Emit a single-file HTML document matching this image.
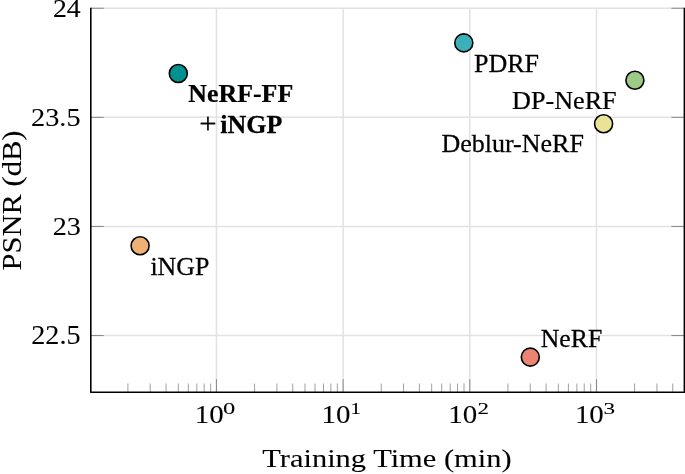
<!DOCTYPE html><html><head><meta charset="utf-8"><style>html,body{margin:0;padding:0;background:#fff;overflow:hidden}svg{display:block}text{font-family:"Liberation Serif",serif;fill:#000}.d text{stroke:#000;stroke-width:0.25px}.c text{stroke:#000;stroke-width:0.08px}</style></head><body>
<svg width="685" height="474" viewBox="0 0 685 474" xmlns="http://www.w3.org/2000/svg">
<line x1="216.45" y1="8.25" x2="216.45" y2="392.20" stroke="#e2e2e2" stroke-width="1.5"/>
<line x1="343.13" y1="8.25" x2="343.13" y2="392.20" stroke="#e2e2e2" stroke-width="1.5"/>
<line x1="469.81" y1="8.25" x2="469.81" y2="392.20" stroke="#e2e2e2" stroke-width="1.5"/>
<line x1="596.49" y1="8.25" x2="596.49" y2="392.20" stroke="#e2e2e2" stroke-width="1.5"/>
<line x1="90.80" y1="8.25" x2="684.40" y2="8.25" stroke="#e2e2e2" stroke-width="1.5"/>
<line x1="90.80" y1="117.35" x2="684.40" y2="117.35" stroke="#e2e2e2" stroke-width="1.5"/>
<line x1="90.80" y1="226.45" x2="684.40" y2="226.45" stroke="#e2e2e2" stroke-width="1.5"/>
<line x1="90.80" y1="335.55" x2="684.40" y2="335.55" stroke="#e2e2e2" stroke-width="1.5"/>
<line x1="127.90" y1="392.20" x2="127.90" y2="383.50" stroke="#a0a0a0" stroke-width="1.0"/>
<line x1="150.21" y1="392.20" x2="150.21" y2="383.50" stroke="#a0a0a0" stroke-width="1.0"/>
<line x1="166.04" y1="392.20" x2="166.04" y2="383.50" stroke="#a0a0a0" stroke-width="1.0"/>
<line x1="178.32" y1="392.20" x2="178.32" y2="383.50" stroke="#a0a0a0" stroke-width="1.0"/>
<line x1="188.35" y1="392.20" x2="188.35" y2="383.50" stroke="#a0a0a0" stroke-width="1.0"/>
<line x1="196.83" y1="392.20" x2="196.83" y2="383.50" stroke="#a0a0a0" stroke-width="1.0"/>
<line x1="204.17" y1="392.20" x2="204.17" y2="383.50" stroke="#a0a0a0" stroke-width="1.0"/>
<line x1="210.65" y1="392.20" x2="210.65" y2="383.50" stroke="#a0a0a0" stroke-width="1.0"/>
<line x1="254.58" y1="392.20" x2="254.58" y2="383.50" stroke="#a0a0a0" stroke-width="1.0"/>
<line x1="276.89" y1="392.20" x2="276.89" y2="383.50" stroke="#a0a0a0" stroke-width="1.0"/>
<line x1="292.72" y1="392.20" x2="292.72" y2="383.50" stroke="#a0a0a0" stroke-width="1.0"/>
<line x1="305.00" y1="392.20" x2="305.00" y2="383.50" stroke="#a0a0a0" stroke-width="1.0"/>
<line x1="315.03" y1="392.20" x2="315.03" y2="383.50" stroke="#a0a0a0" stroke-width="1.0"/>
<line x1="323.51" y1="392.20" x2="323.51" y2="383.50" stroke="#a0a0a0" stroke-width="1.0"/>
<line x1="330.85" y1="392.20" x2="330.85" y2="383.50" stroke="#a0a0a0" stroke-width="1.0"/>
<line x1="337.33" y1="392.20" x2="337.33" y2="383.50" stroke="#a0a0a0" stroke-width="1.0"/>
<line x1="381.26" y1="392.20" x2="381.26" y2="383.50" stroke="#a0a0a0" stroke-width="1.0"/>
<line x1="403.57" y1="392.20" x2="403.57" y2="383.50" stroke="#a0a0a0" stroke-width="1.0"/>
<line x1="419.40" y1="392.20" x2="419.40" y2="383.50" stroke="#a0a0a0" stroke-width="1.0"/>
<line x1="431.68" y1="392.20" x2="431.68" y2="383.50" stroke="#a0a0a0" stroke-width="1.0"/>
<line x1="441.71" y1="392.20" x2="441.71" y2="383.50" stroke="#a0a0a0" stroke-width="1.0"/>
<line x1="450.19" y1="392.20" x2="450.19" y2="383.50" stroke="#a0a0a0" stroke-width="1.0"/>
<line x1="457.53" y1="392.20" x2="457.53" y2="383.50" stroke="#a0a0a0" stroke-width="1.0"/>
<line x1="464.01" y1="392.20" x2="464.01" y2="383.50" stroke="#a0a0a0" stroke-width="1.0"/>
<line x1="507.94" y1="392.20" x2="507.94" y2="383.50" stroke="#a0a0a0" stroke-width="1.0"/>
<line x1="530.25" y1="392.20" x2="530.25" y2="383.50" stroke="#a0a0a0" stroke-width="1.0"/>
<line x1="546.08" y1="392.20" x2="546.08" y2="383.50" stroke="#a0a0a0" stroke-width="1.0"/>
<line x1="558.36" y1="392.20" x2="558.36" y2="383.50" stroke="#a0a0a0" stroke-width="1.0"/>
<line x1="568.39" y1="392.20" x2="568.39" y2="383.50" stroke="#a0a0a0" stroke-width="1.0"/>
<line x1="576.87" y1="392.20" x2="576.87" y2="383.50" stroke="#a0a0a0" stroke-width="1.0"/>
<line x1="584.21" y1="392.20" x2="584.21" y2="383.50" stroke="#a0a0a0" stroke-width="1.0"/>
<line x1="590.69" y1="392.20" x2="590.69" y2="383.50" stroke="#a0a0a0" stroke-width="1.0"/>
<line x1="634.62" y1="392.20" x2="634.62" y2="383.50" stroke="#a0a0a0" stroke-width="1.0"/>
<line x1="656.93" y1="392.20" x2="656.93" y2="383.50" stroke="#a0a0a0" stroke-width="1.0"/>
<line x1="672.76" y1="392.20" x2="672.76" y2="383.50" stroke="#a0a0a0" stroke-width="1.0"/>
<line x1="216.45" y1="392.20" x2="216.45" y2="379.20" stroke="#888888" stroke-width="1.0"/>
<line x1="343.13" y1="392.20" x2="343.13" y2="379.20" stroke="#888888" stroke-width="1.0"/>
<line x1="469.81" y1="392.20" x2="469.81" y2="379.20" stroke="#888888" stroke-width="1.0"/>
<line x1="596.49" y1="392.20" x2="596.49" y2="379.20" stroke="#888888" stroke-width="1.0"/>
<line x1="90.80" y1="8.25" x2="103.80" y2="8.25" stroke="#888888" stroke-width="1.0"/>
<line x1="684.40" y1="8.25" x2="671.40" y2="8.25" stroke="#888888" stroke-width="1.0"/>
<line x1="90.80" y1="117.35" x2="103.80" y2="117.35" stroke="#888888" stroke-width="1.0"/>
<line x1="684.40" y1="117.35" x2="671.40" y2="117.35" stroke="#888888" stroke-width="1.0"/>
<line x1="90.80" y1="226.45" x2="103.80" y2="226.45" stroke="#888888" stroke-width="1.0"/>
<line x1="684.40" y1="226.45" x2="671.40" y2="226.45" stroke="#888888" stroke-width="1.0"/>
<line x1="90.80" y1="335.55" x2="103.80" y2="335.55" stroke="#888888" stroke-width="1.0"/>
<line x1="684.40" y1="335.55" x2="671.40" y2="335.55" stroke="#888888" stroke-width="1.0"/>
<path d="M90.80,7.85 L90.80,392.20 L684.40,392.20 L684.40,7.85" fill="none" stroke="#000" stroke-width="1.6" stroke-linejoin="round"/>
<g class="c">
<text transform="translate(52.95,16.90) scale(1.0844,1)" font-size="25.61" font-weight="normal" >24</text>
<text transform="translate(31.03,125.70) scale(1.0983,1)" font-size="25.76" font-weight="normal" >23.5</text>
<text transform="translate(52.73,235.00) scale(1.0947,1)" font-size="25.76" font-weight="normal" >23</text>
<text transform="translate(31.23,344.00) scale(1.0684,1)" font-size="26.36" font-weight="normal" >22.5</text>
<text transform="translate(194.84,422.75) scale(1.1434,1)" font-size="25.33" font-weight="normal" >10</text>
<text transform="translate(222.97,413.82) scale(1.3911,1)" font-size="17.63" font-weight="normal" >0</text>
<text transform="translate(321.52,422.75) scale(1.1434,1)" font-size="25.33" font-weight="normal" >10</text>
<text transform="translate(350.28,413.80) scale(1.2249,1)" font-size="17.73" font-weight="normal" >1</text>
<text transform="translate(448.20,422.75) scale(1.1434,1)" font-size="25.33" font-weight="normal" >10</text>
<text transform="translate(477.38,413.80) scale(1.3200,1)" font-size="17.42" font-weight="normal" >2</text>
<text transform="translate(574.88,422.75) scale(1.1434,1)" font-size="25.33" font-weight="normal" >10</text>
<text transform="translate(603.53,413.82) scale(1.3046,1)" font-size="17.76" font-weight="normal" >3</text>
<text transform="translate(262.29,466.60) scale(1.1947,1)" font-size="25.50" font-weight="normal" >Training Time (min)</text>
<g transform="translate(20.5,269.6) rotate(-90)"><text transform="translate(-0.92,0.00) scale(1.1118,1)" font-size="27.48" font-weight="normal" >PSNR (dB)</text></g>
</g>
<circle cx="178.3" cy="73.5" r="9.0" fill="#01918e" stroke="#000" stroke-width="1.6"/>
<circle cx="463.8" cy="42.9" r="9.0" fill="#3bb0b8" stroke="#000" stroke-width="1.6"/>
<circle cx="634.9" cy="80.2" r="9.0" fill="#9dcb85" stroke="#000" stroke-width="1.6"/>
<circle cx="603.6" cy="123.8" r="9.0" fill="#e9e297" stroke="#000" stroke-width="1.6"/>
<circle cx="140.1" cy="245.8" r="9.0" fill="#efb075" stroke="#000" stroke-width="1.6"/>
<circle cx="530.3" cy="357.1" r="9.0" fill="#e98571" stroke="#000" stroke-width="1.6"/>
<g class="d">
<text transform="translate(188.28,102.20) scale(1.0154,1)" font-size="25.50" font-weight="bold" >NeRF-FF</text>
<text transform="translate(199.16,133.33) scale(1.0706,1)" font-size="28.72" font-weight="normal" >+</text>
<text transform="translate(220.28,132.50) scale(1.0260,1)" font-size="25.32" font-weight="bold" >iNGP</text>
<text transform="translate(473.92,71.60) scale(1.0399,1)" font-size="25.04" font-weight="normal" >PDRF</text>
<text transform="translate(512.12,108.80) scale(1.0075,1)" font-size="25.95" font-weight="normal" >DP-NeRF</text>
<text transform="translate(441.42,152.00) scale(0.9967,1)" font-size="26.11" font-weight="normal" >Deblur-NeRF</text>
<text transform="translate(150.38,274.60) scale(0.9944,1)" font-size="26.06" font-weight="normal" >iNGP</text>
<text transform="translate(540.73,347.10) scale(1.0045,1)" font-size="25.65" font-weight="normal" >NeRF</text>
</g>
</svg></body></html>
